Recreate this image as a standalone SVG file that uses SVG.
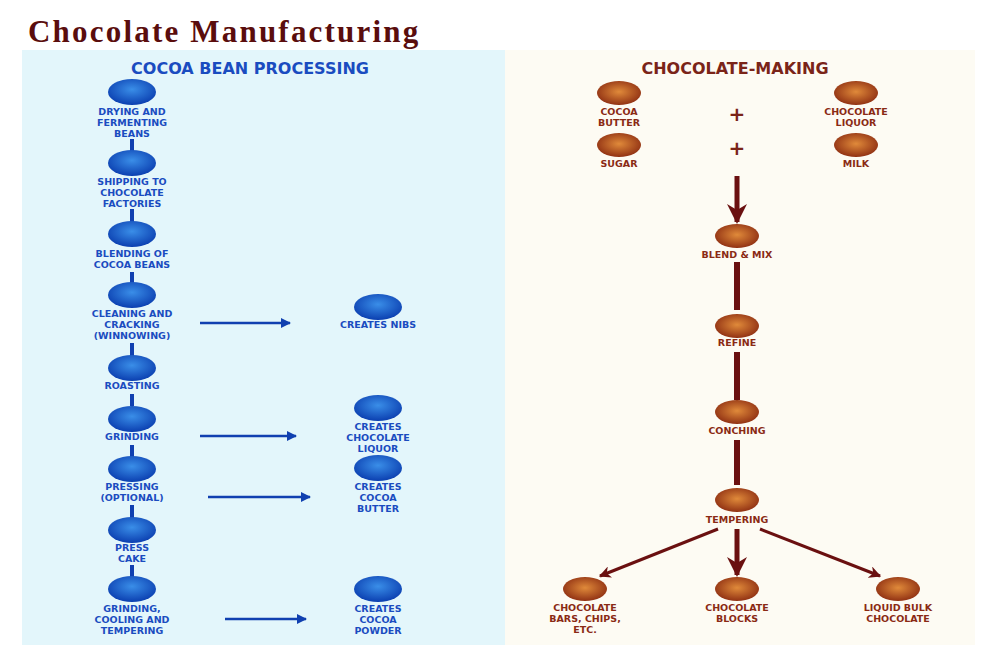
<svg xmlns="http://www.w3.org/2000/svg" width="990" height="658" viewBox="0 0 990 658">
<defs>
<radialGradient id="gb" cx="50%" cy="40%" r="60%"><stop offset="0" stop-color="#3a8ee8"/><stop offset="1" stop-color="#0b3fb0"/></radialGradient>
<radialGradient id="gr" cx="50%" cy="45%" r="60%"><stop offset="0" stop-color="#e08a3a"/><stop offset="1" stop-color="#8a2a10"/></radialGradient>
<marker id="ab" viewBox="0 0 10 10" refX="9" refY="5" markerWidth="4" markerHeight="4" orient="auto"><path d="M0,0 L10,5 L0,10 Z" fill="#1040b0"/></marker>
<marker id="ar" viewBox="0 0 10 10" refX="9" refY="5" markerWidth="4" markerHeight="4" orient="auto"><path d="M0,0 L10,5 L0,10 L3,5 Z" fill="#6a1010"/></marker>
</defs>
<style>
.b{fill:url(#gb)}.r{fill:url(#gr)}
.tb{font-family:"DejaVu Sans",sans-serif;font-weight:bold;font-size:9.5px;fill:#1a4cc0;text-anchor:middle}
.tr{font-family:"DejaVu Sans",sans-serif;font-weight:bold;font-size:9.5px;fill:#8a2a14;text-anchor:middle}
.lb{stroke:#1040b0;stroke-width:4}.ab{stroke:#1040b0;stroke-width:2.5;marker-end:url(#ab)}
.lr{stroke:#6a1010;stroke-width:6}.ar{stroke:#6a1010;stroke-width:3;marker-end:url(#ar)}
</style>
<rect width="990" height="658" fill="#fff"/>
<rect x="22" y="50" width="483" height="595" fill="#e3f6fb"/>
<rect x="505" y="50" width="470" height="595" fill="#fdfbf3"/>
<text x="28" y="42" font-family="Liberation Serif,serif" font-weight="bold" font-size="31" letter-spacing="2.2" fill="#5a0d0d">Chocolate Manufacturing</text>
<text x="250" y="74" font-family="DejaVu Sans,sans-serif" font-weight="bold" font-size="16" fill="#1a4cc0" text-anchor="middle">COCOA BEAN PROCESSING</text>
<text x="735" y="74" font-family="DejaVu Sans,sans-serif" font-weight="bold" font-size="16" fill="#7a2418" text-anchor="middle">CHOCOLATE-MAKING</text>
<g id="connectors">
<line class="lb" x1="132" y1="139" x2="132" y2="152"/>
<line class="lb" x1="132" y1="209" x2="132" y2="222"/>
<line class="lb" x1="132" y1="272" x2="132" y2="284"/>
<line class="lb" x1="132" y1="343" x2="132" y2="356"/>
<line class="lb" x1="132" y1="394" x2="132" y2="406"/>
<line class="lb" x1="132" y1="445" x2="132" y2="457"/>
<line class="lb" x1="132" y1="505" x2="132" y2="518"/>
<line class="lb" x1="132" y1="565" x2="132" y2="577"/>
<line class="ab" x1="200" y1="323" x2="290" y2="323"/>
<line class="ab" x1="200" y1="436" x2="296" y2="436"/>
<line class="ab" x1="208" y1="497" x2="310" y2="497"/>
<line class="ab" x1="225" y1="619" x2="306" y2="619"/>
<line class="ar" x1="737" y1="176" x2="737" y2="222" style="stroke-width:5"/>
<line class="lr" x1="737" y1="262" x2="737" y2="310"/>
<line class="lr" x1="737" y1="352" x2="737" y2="400"/>
<line class="lr" x1="737" y1="440" x2="737" y2="485"/>
<line class="ar" x1="718" y1="529" x2="600" y2="576"/>
<line class="ar" x1="737" y1="529" x2="737" y2="575" style="stroke-width:5"/>
<line class="ar" x1="760" y1="529" x2="880" y2="576"/>
</g>
<g id="drying"><ellipse class="b" cx="132" cy="92" rx="24" ry="13"/><text class="tb" x="132" y="115">DRYING AND</text><text class="tb" x="132" y="126">FERMENTING</text><text class="tb" x="132" y="137">BEANS</text></g>
<g id="shipping"><ellipse class="b" cx="132" cy="163" rx="24" ry="13"/><text class="tb" x="132" y="185">SHIPPING TO</text><text class="tb" x="132" y="196">CHOCOLATE</text><text class="tb" x="132" y="207">FACTORIES</text></g>
<g id="blending"><ellipse class="b" cx="132" cy="234" rx="24" ry="13"/><text class="tb" x="132" y="257">BLENDING OF</text><text class="tb" x="132" y="268">COCOA BEANS</text></g>
<g id="cleaning"><ellipse class="b" cx="132" cy="295" rx="24" ry="13"/><text class="tb" x="132" y="317">CLEANING AND</text><text class="tb" x="132" y="328">CRACKING</text><text class="tb" x="132" y="339">(WINNOWING)</text></g>
<g id="roasting"><ellipse class="b" cx="132" cy="368" rx="24" ry="13"/><text class="tb" x="132" y="389">ROASTING</text></g>
<g id="grinding"><ellipse class="b" cx="132" cy="419" rx="24" ry="13"/><text class="tb" x="132" y="440">GRINDING</text></g>
<g id="pressing"><ellipse class="b" cx="132" cy="469" rx="24" ry="13"/><text class="tb" x="132" y="490">PRESSING</text><text class="tb" x="132" y="501">(OPTIONAL)</text></g>
<g id="presscake"><ellipse class="b" cx="132" cy="530" rx="24" ry="13"/><text class="tb" x="132" y="551">PRESS</text><text class="tb" x="132" y="562">CAKE</text></g>
<g id="grinding2"><ellipse class="b" cx="132" cy="589" rx="24" ry="13"/><text class="tb" x="132" y="612">GRINDING,</text><text class="tb" x="132" y="623">COOLING AND</text><text class="tb" x="132" y="634">TEMPERING</text></g>
<g id="nibs"><ellipse class="b" cx="378" cy="307" rx="24" ry="13"/><text class="tb" x="378" y="328">CREATES NIBS</text></g>
<g id="liquor"><ellipse class="b" cx="378" cy="408" rx="24" ry="13"/><text class="tb" x="378" y="430">CREATES</text><text class="tb" x="378" y="441">CHOCOLATE</text><text class="tb" x="378" y="452">LIQUOR</text></g>
<g id="butter"><ellipse class="b" cx="378" cy="468" rx="24" ry="13"/><text class="tb" x="378" y="490">CREATES</text><text class="tb" x="378" y="501">COCOA</text><text class="tb" x="378" y="512">BUTTER</text></g>
<g id="powder"><ellipse class="b" cx="378" cy="589" rx="24" ry="13"/><text class="tb" x="378" y="612">CREATES</text><text class="tb" x="378" y="623">COCOA</text><text class="tb" x="378" y="634">POWDER</text></g>
<g id="cocoabutter"><ellipse class="r" cx="619" cy="93" rx="22" ry="12"/><text class="tr" x="619" y="115">COCOA</text><text class="tr" x="619" y="126">BUTTER</text></g>
<g id="chocliquor"><ellipse class="r" cx="856" cy="93" rx="22" ry="12"/><text class="tr" x="856" y="115">CHOCOLATE</text><text class="tr" x="856" y="126">LIQUOR</text></g>
<g id="sugar"><ellipse class="r" cx="619" cy="145" rx="22" ry="12"/><text class="tr" x="619" y="167">SUGAR</text></g>
<g id="milk"><ellipse class="r" cx="856" cy="145" rx="22" ry="12"/><text class="tr" x="856" y="167">MILK</text></g>
<text x="737" y="121" font-family="DejaVu Sans,sans-serif" font-weight="bold" font-size="20" fill="#7a2418" text-anchor="middle">+</text>
<text x="737" y="155" font-family="DejaVu Sans,sans-serif" font-weight="bold" font-size="20" fill="#7a2418" text-anchor="middle">+</text>
<g id="blend"><ellipse class="r" cx="737" cy="236" rx="22" ry="12"/><text class="tr" x="737" y="258">BLEND &amp; MIX</text></g>
<g id="refine"><ellipse class="r" cx="737" cy="326" rx="22" ry="12"/><text class="tr" x="737" y="346">REFINE</text></g>
<g id="conching"><ellipse class="r" cx="737" cy="412" rx="22" ry="12"/><text class="tr" x="737" y="434">CONCHING</text></g>
<g id="tempering"><ellipse class="r" cx="737" cy="500" rx="22" ry="12"/><text class="tr" x="737" y="523">TEMPERING</text></g>
<g id="bars"><ellipse class="r" cx="585" cy="589" rx="22" ry="12"/><text class="tr" x="585" y="611">CHOCOLATE</text><text class="tr" x="585" y="622">BARS, CHIPS,</text><text class="tr" x="585" y="633">ETC.</text></g>
<g id="blocks"><ellipse class="r" cx="737" cy="589" rx="22" ry="12"/><text class="tr" x="737" y="611">CHOCOLATE</text><text class="tr" x="737" y="622">BLOCKS</text></g>
<g id="bulk"><ellipse class="r" cx="898" cy="589" rx="22" ry="12"/><text class="tr" x="898" y="611">LIQUID BULK</text><text class="tr" x="898" y="622">CHOCOLATE</text></g>
</svg>
